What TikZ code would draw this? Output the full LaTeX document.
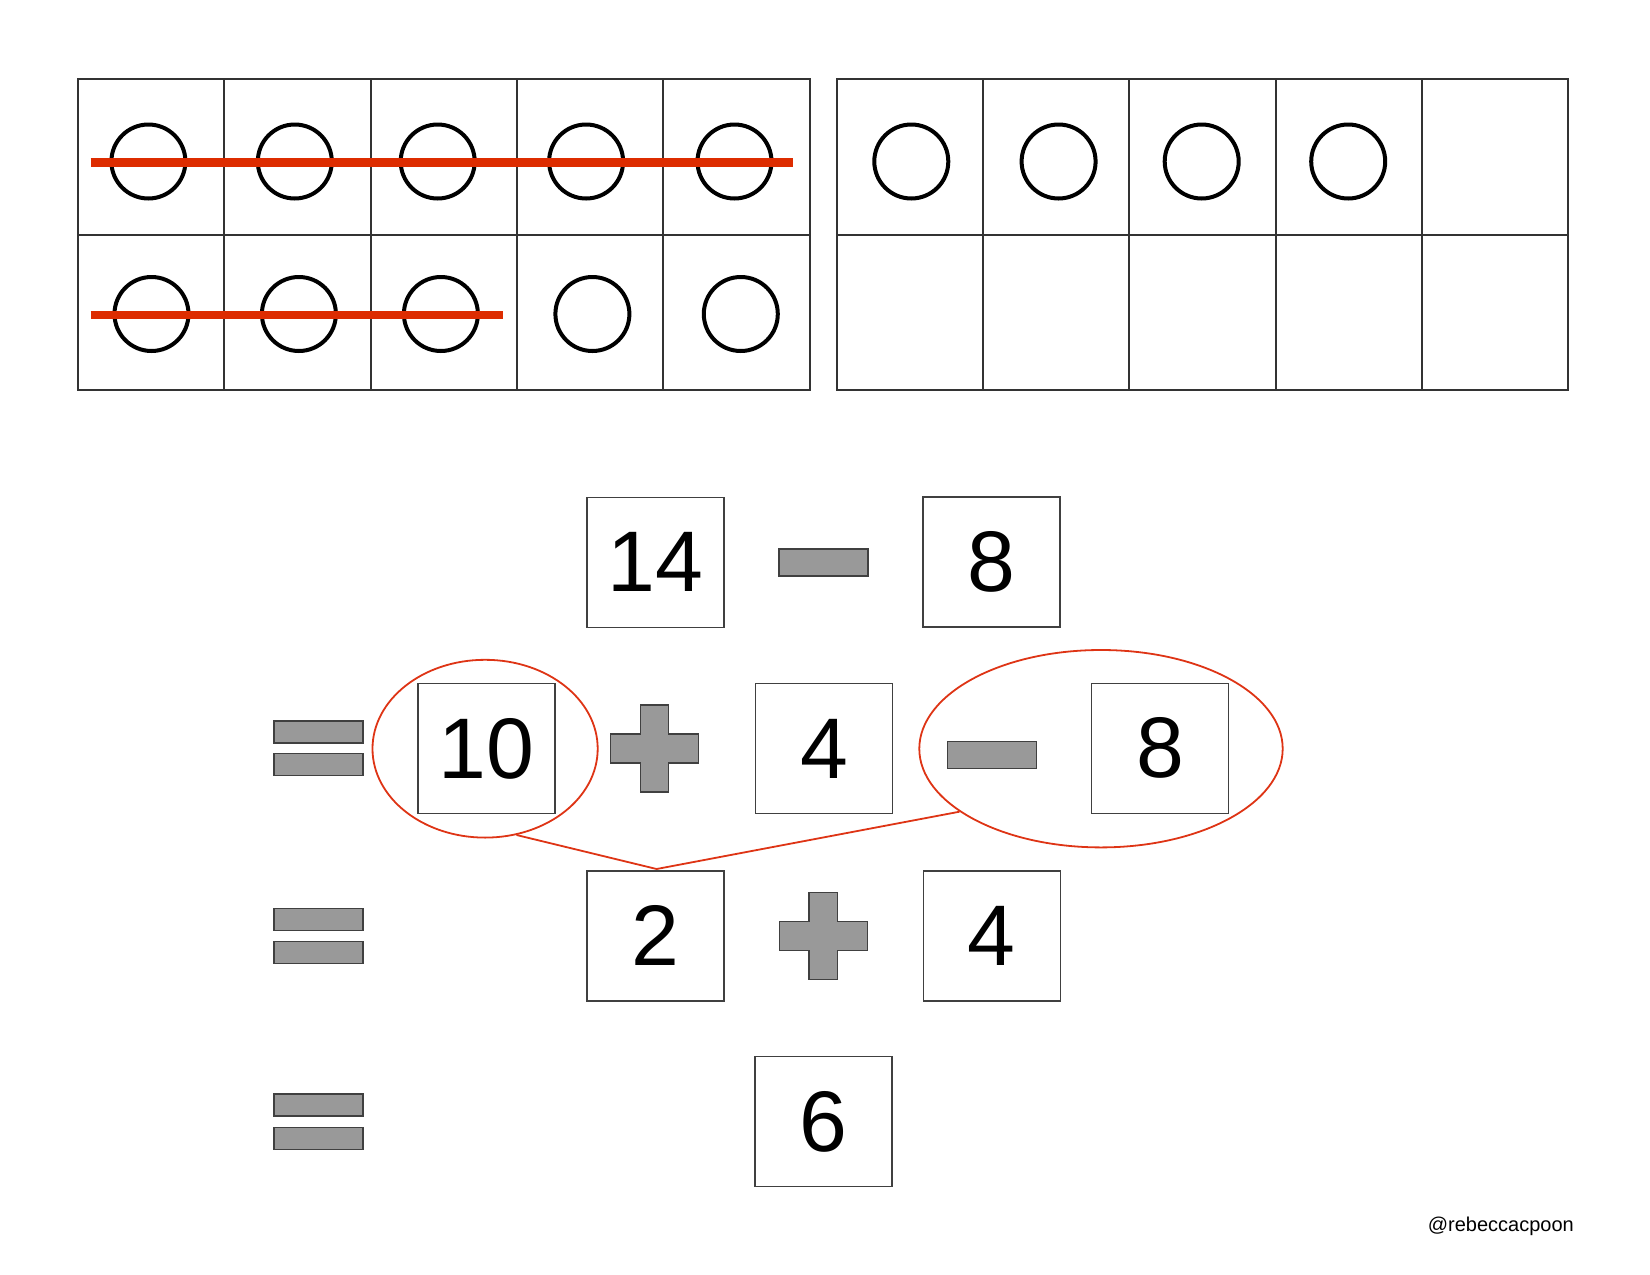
\documentclass[tikz,border=0pt]{standalone}
\usepackage{fontspec}
\setmainfont{Liberation Sans}
\usetikzlibrary{shapes.geometric}
\definecolor{boxgray}{HTML}{404040}
\definecolor{signgray}{HTML}{999999}
\definecolor{gridgray}{HTML}{333333}
\definecolor{strike}{HTML}{DD2C00}
\definecolor{ringred}{HTML}{DE3415}
\tikzset{
  numbox/.style={draw=boxgray, line width=1.5pt, minimum width=137pt, minimum height=130pt, inner sep=0pt, font=\fontsize{86}{86}\selectfont},
  eqbar/.style={draw=boxgray, fill=signgray, line width=1.5pt, minimum width=89pt, minimum height=22pt, inner sep=0pt},
  minusbar/.style={draw=boxgray, fill=signgray, line width=1.5pt, minimum width=89pt, minimum height=27pt, inner sep=0pt},
  plussign/.style={draw=boxgray, fill=signgray, line width=1.5pt, line join=miter},
  ring/.style={draw=ringred, line width=1.8pt, ellipse, inner sep=0pt},
  counter/.style={draw=black, line width=4pt},
  strikeline/.style={draw=strike, line width=8.5pt},
  gridline/.style={draw=gridgray, line width=2pt},
  link/.style={draw=ringred, line width=1.8pt}
}
\begin{document}
\begin{tikzpicture}[x=1pt, y=-1pt]
\useasboundingbox (0,0) rectangle (1650,1275);
% ten frames
\foreach \fx in {78, 836.6}{
  \draw[gridline] (\fx,79) rectangle ++(731.6,310.5);
  \draw[gridline] (\fx,234.7) -- ++(731.6,0);
  \foreach \i in {1,...,4}{
    \draw[gridline] (\fx+\i*146.32,79) -- ++(0,310.5);
  }
}
% counters frame 1
\foreach \cx in {148.4, 294.8, 437.7, 586.1, 734.5}{
  \draw[counter] (\cx,161.5) circle (37);
}
\foreach \cx in {151.5, 298.9, 440.9, 592.4, 740.8}{
  \draw[counter] (\cx,314) circle (37);
}
% counters frame 2
\foreach \cx in {911.3, 1058.6, 1201.7, 1348.2}{
  \draw[counter] (\cx,161.5) circle (37);
}
% strike lines
\draw[strikeline] (90.5,162.3) -- (793.4,162.3);
\draw[strikeline] (90.5,315) -- (503,315);
% row 1
\node[numbox] (b14) at (655.5,562.3) {14};
\node[minusbar] (m1) at (823.3,562.5) {};
\node[numbox] (b8a) at (991.3,562.2) {8};
% row 2
\node[eqbar] (e2t) at (318.3,731.8) {};
\node[eqbar] (e2b) at (318.3,764.7) {};
\node[numbox] (b10) at (486.7,748.7) {10};
\coordinate (p2) at (654.5,748.5);
\draw[plussign] (p2) ++(-14.2,-43.3) -- ++(28.4,0) -- ++(0,29) -- ++(29.8,0) -- ++(0,28.6) -- ++(-29.8,0) -- ++(0,29) -- ++(-28.4,0) -- ++(0,-29) -- ++(-29.8,0) -- ++(0,-28.6) -- ++(29.8,0) -- cycle;
\node[numbox] (b4a) at (824,748.7) {4};
\node[minusbar] (m2) at (992,755.2) {};
\node[numbox] (b8b) at (1160,748.3) {8};
\node[ring, minimum width=225.2pt, minimum height=177.8pt] (r1) at (485.1,748.7) {};
\node[ring, minimum width=363.4pt, minimum height=197.4pt] (r2) at (1101,748.7) {};
% row 3
\node[eqbar] (e3t) at (318.3,919.6) {};
\node[eqbar] (e3b) at (318.3,952.4) {};
\node[numbox] (b2) at (655.3,935.9) {2};
\coordinate (p3) at (823.4,936);
\draw[plussign] (p3) ++(-14.2,-43.3) -- ++(28.4,0) -- ++(0,29) -- ++(29.8,0) -- ++(0,28.6) -- ++(-29.8,0) -- ++(0,29) -- ++(-28.4,0) -- ++(0,-29) -- ++(-29.8,0) -- ++(0,-28.6) -- ++(29.8,0) -- cycle;
\node[numbox] (b4b) at (991.8,936) {4};
% row 4
\node[eqbar] (e4t) at (318.3,1105.2) {};
\node[eqbar] (e4b) at (318.3,1138.4) {};
\node[numbox] (b6) at (823.5,1121.7) {6};
% connector
\coordinate (apex) at (656.6,869);
\draw[link] (r1.-70.7) -- (apex) -- (r2.204);
% credit
\node[anchor=base east, inner sep=0pt, font=\fontsize{20}{24}\selectfont] (credit) at (1574,1231) {@rebeccacpoon};
\end{tikzpicture}
\end{document}
